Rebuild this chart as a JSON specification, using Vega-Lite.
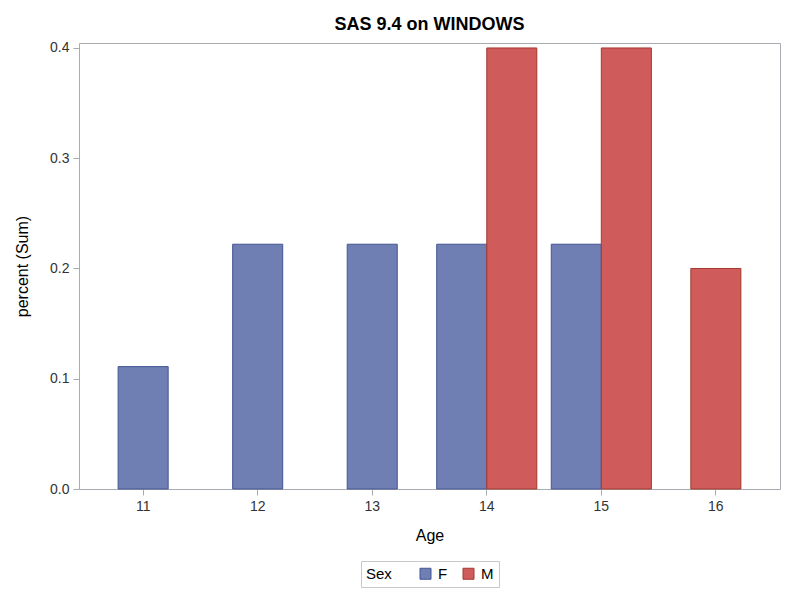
{
  "$schema": "https://vega.github.io/schema/vega-lite/v6.json",
  "description": "SAS 9.4 on WINDOWS - percent by Age and Sex",
  "autosize": {"type": "none"},
  "width": 701,
  "height": 446,
  "padding": {"left": 79, "top": 43, "right": 14, "bottom": 110},
  "background": "white",
  "title": {
    "text": "SAS 9.4 on WINDOWS",
    "font": "Liberation Sans",
    "fontSize": 18,
    "fontWeight": "bold",
    "color": "#000000",
    "anchor": "middle",
    "offset": 7
  },
  "data": {
    "values": [
      {"Age": 11, "Sex": "F", "percent": 0.111},
      {"Age": 12, "Sex": "F", "percent": 0.222},
      {"Age": 13, "Sex": "F", "percent": 0.222},
      {"Age": 14, "Sex": "F", "percent": 0.222},
      {"Age": 15, "Sex": "F", "percent": 0.222},
      {"Age": 14, "Sex": "M", "percent": 0.4},
      {"Age": 15, "Sex": "M", "percent": 0.4},
      {"Age": 16, "Sex": "M", "percent": 0.2}
    ]
  },
  "transform": [
    {"joinaggregate": [{"op": "count", "as": "n"}], "groupby": ["Age"]}
  ],
  "encoding": {
    "x": {
      "field": "Age",
      "type": "ordinal",
      "title": "Age",
      "scale": {"domain": [11, 12, 13, 14, 15, 16], "paddingInner": 0.126, "paddingOuter": 0.123},
      "axis": {"labelAngle": 0, "titlePadding": 14}
    },
    "y": {
      "field": "percent",
      "type": "quantitative",
      "title": "percent (Sum)",
      "scale": {"domain": [0, 0.4045], "nice": false},
      "axis": {"values": [0, 0.1, 0.2, 0.3, 0.4], "format": ".1f", "titlePadding": 19}
    },
    "fill": {
      "field": "Sex",
      "type": "nominal",
      "title": "Sex",
      "scale": {"domain": ["F", "M"], "range": ["#6F7EB3", "#D05B5B"]}
    },
    "stroke": {
      "field": "Sex",
      "type": "nominal",
      "title": "Sex",
      "scale": {"domain": ["F", "M"], "range": ["#445694", "#A23A2E"]}
    }
  },
  "layer": [
    {
      "transform": [{"filter": "datum.n == 2"}],
      "mark": {"type": "bar", "strokeWidth": 1},
      "encoding": {
        "xOffset": {"field": "Sex", "type": "nominal", "scale": {"domain": ["F", "M"], "paddingInner": 0, "paddingOuter": 0}}
      }
    },
    {
      "transform": [{"filter": "datum.n == 1"}],
      "mark": {"type": "bar", "strokeWidth": 1, "width": {"band": 0.5}},
      "encoding": {}
    }
  ],
  "config": {
    "font": "Liberation Sans",
    "view": {"stroke": "#a8acb0", "strokeWidth": 1},
    "axis": {
      "domain": false,
      "grid": false,
      "ticks": true,
      "tickSize": 6,
      "tickColor": "#a8acb0",
      "labelFont": "Liberation Sans",
      "labelFontSize": 14,
      "labelColor": "#333333",
      "labelPadding": 4,
      "titleFont": "Liberation Sans",
      "titleFontSize": 16,
      "titleFontWeight": "normal",
      "titleColor": "#000000"
    },
    "legend": {
      "orient": "none",
      "legendX": 282,
      "legendY": 518,
      "direction": "horizontal",
      "titleOrient": "left",
      "titleFont": "Liberation Sans",
      "titleFontSize": 15,
      "titleFontWeight": "normal",
      "titleColor": "#000000",
      "titlePadding": 26,
      "titleBaseline": "middle",
      "labelFont": "Liberation Sans",
      "labelFontSize": 15,
      "labelColor": "#000000",
      "labelOffset": 5,
      "columnPadding": 13,
      "symbolType": "square",
      "symbolSize": 121,
      "symbolStrokeWidth": 1,
      "strokeColor": "#c8c8c8",
      "padding": 5
    }
  }
}
